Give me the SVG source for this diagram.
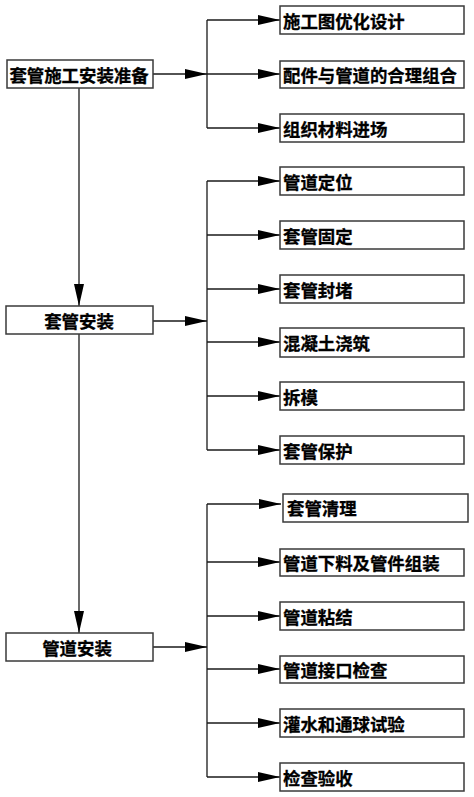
<svg xmlns="http://www.w3.org/2000/svg" width="474" height="797" viewBox="0 0 474 797">
<style>
.bg{fill:#fff}
.box{fill:#fff;stroke:#3a3a3a;stroke-width:1.5}
.ln{fill:none;stroke:#1a1a1a;stroke-width:1.3}
.t{font-family:"Noto Sans CJK SC","Noto Sans CJK JP",sans-serif;font-weight:700;font-size:17.4px;fill:#000;stroke:#000;stroke-width:0.3;dominant-baseline:central}
.c{text-anchor:middle}
</style>
<defs>
<marker id="ah" markerUnits="userSpaceOnUse" markerWidth="22" markerHeight="10" refX="22" refY="5" orient="auto">
<path d="M0,0 L22,5 L0,10 Z" fill="#000"/>
</marker>
</defs>
<rect class="bg" width="474" height="797"/>
<g id="connectors">
<line class="ln" x1="79" y1="88" x2="79" y2="306" marker-end="url(#ah)"/>
<line class="ln" x1="79" y1="334" x2="79" y2="633" marker-end="url(#ah)"/>
<line class="ln" x1="153" y1="74" x2="207" y2="74" marker-end="url(#ah)"/>
<path class="ln" d="M207,20 V128"/>
<line class="ln" x1="207" y1="20" x2="280" y2="20" marker-end="url(#ah)"/>
<line class="ln" x1="207" y1="74" x2="280" y2="74" marker-end="url(#ah)"/>
<line class="ln" x1="207" y1="128" x2="280" y2="128" marker-end="url(#ah)"/>
<line class="ln" x1="153" y1="321" x2="207" y2="321" marker-end="url(#ah)"/>
<path class="ln" d="M207,181 V450"/>
<line class="ln" x1="207" y1="181" x2="280" y2="181" marker-end="url(#ah)"/>
<line class="ln" x1="207" y1="235" x2="280" y2="235" marker-end="url(#ah)"/>
<line class="ln" x1="207" y1="289" x2="280" y2="289" marker-end="url(#ah)"/>
<line class="ln" x1="207" y1="342" x2="280" y2="342" marker-end="url(#ah)"/>
<line class="ln" x1="207" y1="396" x2="280" y2="396" marker-end="url(#ah)"/>
<line class="ln" x1="207" y1="450" x2="280" y2="450" marker-end="url(#ah)"/>
<line class="ln" x1="153" y1="647" x2="207" y2="647" marker-end="url(#ah)"/>
<path class="ln" d="M207,504 V777"/>
<line class="ln" x1="207" y1="504" x2="281" y2="504" marker-end="url(#ah)"/>
<line class="ln" x1="207" y1="562" x2="280" y2="562" marker-end="url(#ah)"/>
<line class="ln" x1="207" y1="616" x2="280" y2="616" marker-end="url(#ah)"/>
<line class="ln" x1="207" y1="669" x2="280" y2="669" marker-end="url(#ah)"/>
<line class="ln" x1="207" y1="723" x2="280" y2="723" marker-end="url(#ah)"/>
<line class="ln" x1="207" y1="777" x2="280" y2="777" marker-end="url(#ah)"/>
</g>
<g id="n-prep"><rect class="box" x="7" y="60" width="146" height="28"/><text class="t c" x="79" y="74.5">套管施工安装准备</text></g>
<g id="n-p1"><rect class="box" x="280" y="6" width="184" height="28"/><text class="t" x="283" y="20.5">施工图优化设计</text></g>
<g id="n-p2"><rect class="box" x="280" y="61" width="184" height="27"/><text class="t" x="283" y="74.5">配件与管道的合理组合</text></g>
<g id="n-p3"><rect class="box" x="280" y="114" width="184" height="28"/><text class="t" x="283" y="128.5">组织材料进场</text></g>
<g id="n-sleeve"><rect class="box" x="6" y="306" width="147" height="28"/><text class="t c" x="79" y="320.5">套管安装</text></g>
<g id="n-s1"><rect class="box" x="280" y="167" width="184" height="28"/><text class="t" x="283" y="181.5">管道定位</text></g>
<g id="n-s2"><rect class="box" x="280" y="221" width="184" height="28"/><text class="t" x="283" y="235.5">套管固定</text></g>
<g id="n-s3"><rect class="box" x="280" y="275" width="184" height="28"/><text class="t" x="283" y="289.5">套管封堵</text></g>
<g id="n-s4"><rect class="box" x="280" y="328" width="184" height="29"/><text class="t" x="283" y="342.5">混凝土浇筑</text></g>
<g id="n-s5"><rect class="box" x="280" y="382" width="184" height="28"/><text class="t" x="283" y="396.5">拆模</text></g>
<g id="n-s6"><rect class="box" x="280" y="436" width="184" height="28"/><text class="t" x="283" y="450.5">套管保护</text></g>
<g id="n-pipe"><rect class="box" x="6" y="633" width="147" height="28"/><text class="t c" x="77" y="647">管道安装</text></g>
<g id="n-g1"><rect class="box" x="283" y="494" width="185" height="28"/><text class="t" x="287" y="507">套管清理</text></g>
<g id="n-g2"><rect class="box" x="280" y="549" width="184" height="27"/><text class="t" x="283" y="562">管道下料及管件组装</text></g>
<g id="n-g3"><rect class="box" x="280" y="602" width="184" height="28"/><text class="t" x="283" y="616">管道粘结</text></g>
<g id="n-g4"><rect class="box" x="280" y="656" width="184" height="27"/><text class="t" x="283" y="669.5">管道接口检查</text></g>
<g id="n-g5"><rect class="box" x="280" y="709" width="184" height="28"/><text class="t" x="283" y="723">灌水和通球试验</text></g>
<g id="n-g6"><rect class="box" x="280" y="763" width="184" height="28"/><text class="t" x="283" y="777">检查验收</text></g>
</svg>
